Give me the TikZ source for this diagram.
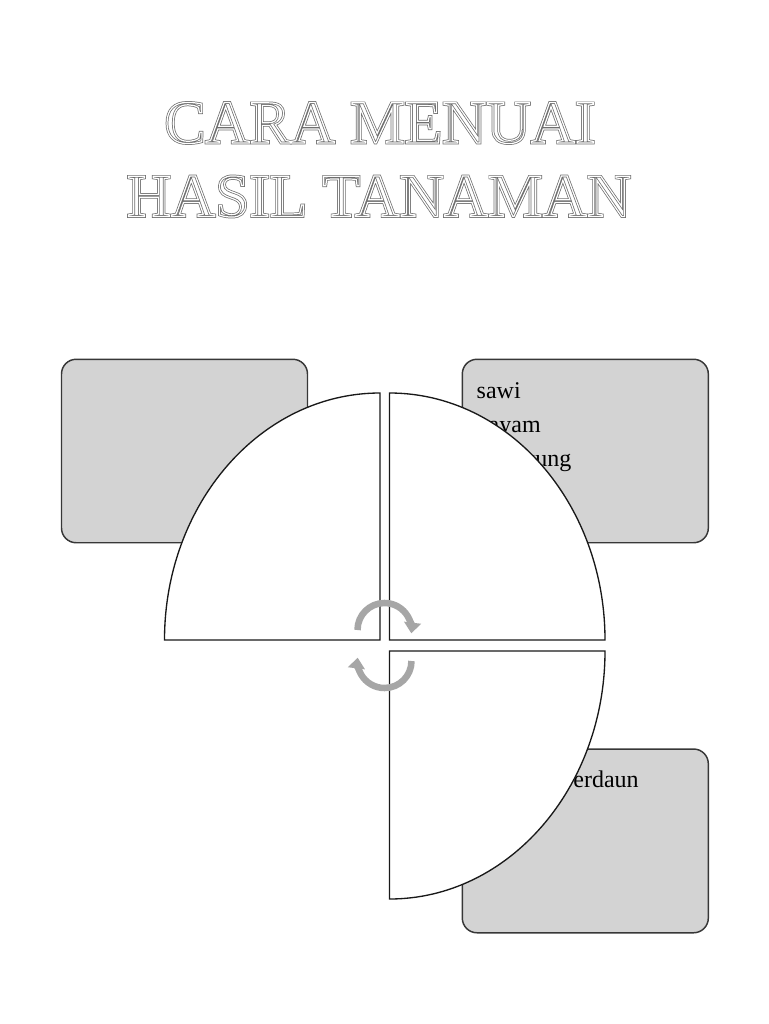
\documentclass[tikz,border=0pt]{standalone}
\usepackage{fontspec}
\setmainfont{Liberation Serif}
\usetikzlibrary{arrows.meta}
\definecolor{boxfill}{RGB}{211,211,211}
\definecolor{boxline}{RGB}{55,55,55}
\definecolor{pieline}{RGB}{25,25,25}
\definecolor{arrowgray}{RGB}{166,166,166}
\definecolor{titlegray}{RGB}{110,110,110}
\newcommand\outlinedtext[1]{%
  \leavevmode\rlap{\textcolor{titlegray}{\special{pdf:literal direct 1 Tr 2 w}#1}}%
  \rlap{\textcolor{white}{\special{pdf:literal direct 1 Tr 0.9 w}#1}}%
  \special{pdf:literal direct 0 Tr 0.4 w}\phantom{#1}}
\tikzset{
  panel/.style={draw=boxline, fill=boxfill, line width=1.1pt, rounded corners=11pt,
    inner sep=0pt, outer sep=0pt, minimum width=184.5pt},
  item/.style={inner sep=0pt, outer sep=0pt, anchor=base west,
    font=\fontsize{18}{22}\selectfont},
  pie/.style={draw=pieline, fill=white, line width=1pt, line join=miter},
  cyc/.style={draw=arrowgray, line width=4.9pt, line cap=butt,
    -{Triangle[width=12.5pt,length=8pt]}},
  titletext/.style={inner sep=0pt, outer sep=0pt, anchor=base,
    font=\fontsize{46}{50}\selectfont}
}
\begin{document}
\begin{tikzpicture}[x=0.75pt, y=-0.75pt]
\useasboundingbox (0,0) rectangle (768,1024);
% panels
\node[panel, minimum height=137.6pt] (boxTL) at (184.5,451) {};
\node[panel, minimum height=137.6pt] (boxTR) at (585.3,451) {};
\node[panel, minimum height=137.8pt] (boxBR) at (585.3,840.9) {};
% panel texts
\node[item] (sawi) at (476.7,398) {sawi};
\node[item] (bayam) at (476.7,432.2) {bayam};
\node[item] (kangkung) at (476.7,466.5) {kangkung};
\node[item] (berdaun) at (476.7,787.3) {Sayuran berdaun};
% pie pieces
\draw[pie] (380,640) -- (164.5,640)
  arc[start angle=180, end angle=270, x radius=215.5, y radius=247] -- cycle;
\draw[pie] (389.5,640) -- (389.5,393)
  arc[start angle=270, end angle=360, x radius=215.5, y radius=247] -- cycle;
\draw[pie] (389.5,651) -- (605,651)
  arc[start angle=0, end angle=90, x radius=215.5, y radius=248] -- cycle;
% cycle arrows
\draw[cyc] (357.5,630) arc[start angle=180, end angle=367, radius=27];
\draw[cyc] (411.5,661) arc[start angle=0, end angle=187, radius=27];
% title
\node[titletext] (title1) at (380,143) {\outlinedtext{CARA MENUAI}};
\node[titletext] (title2) at (379,216.5) {\outlinedtext{HASIL TANAMAN}};
\end{tikzpicture}
\end{document}
